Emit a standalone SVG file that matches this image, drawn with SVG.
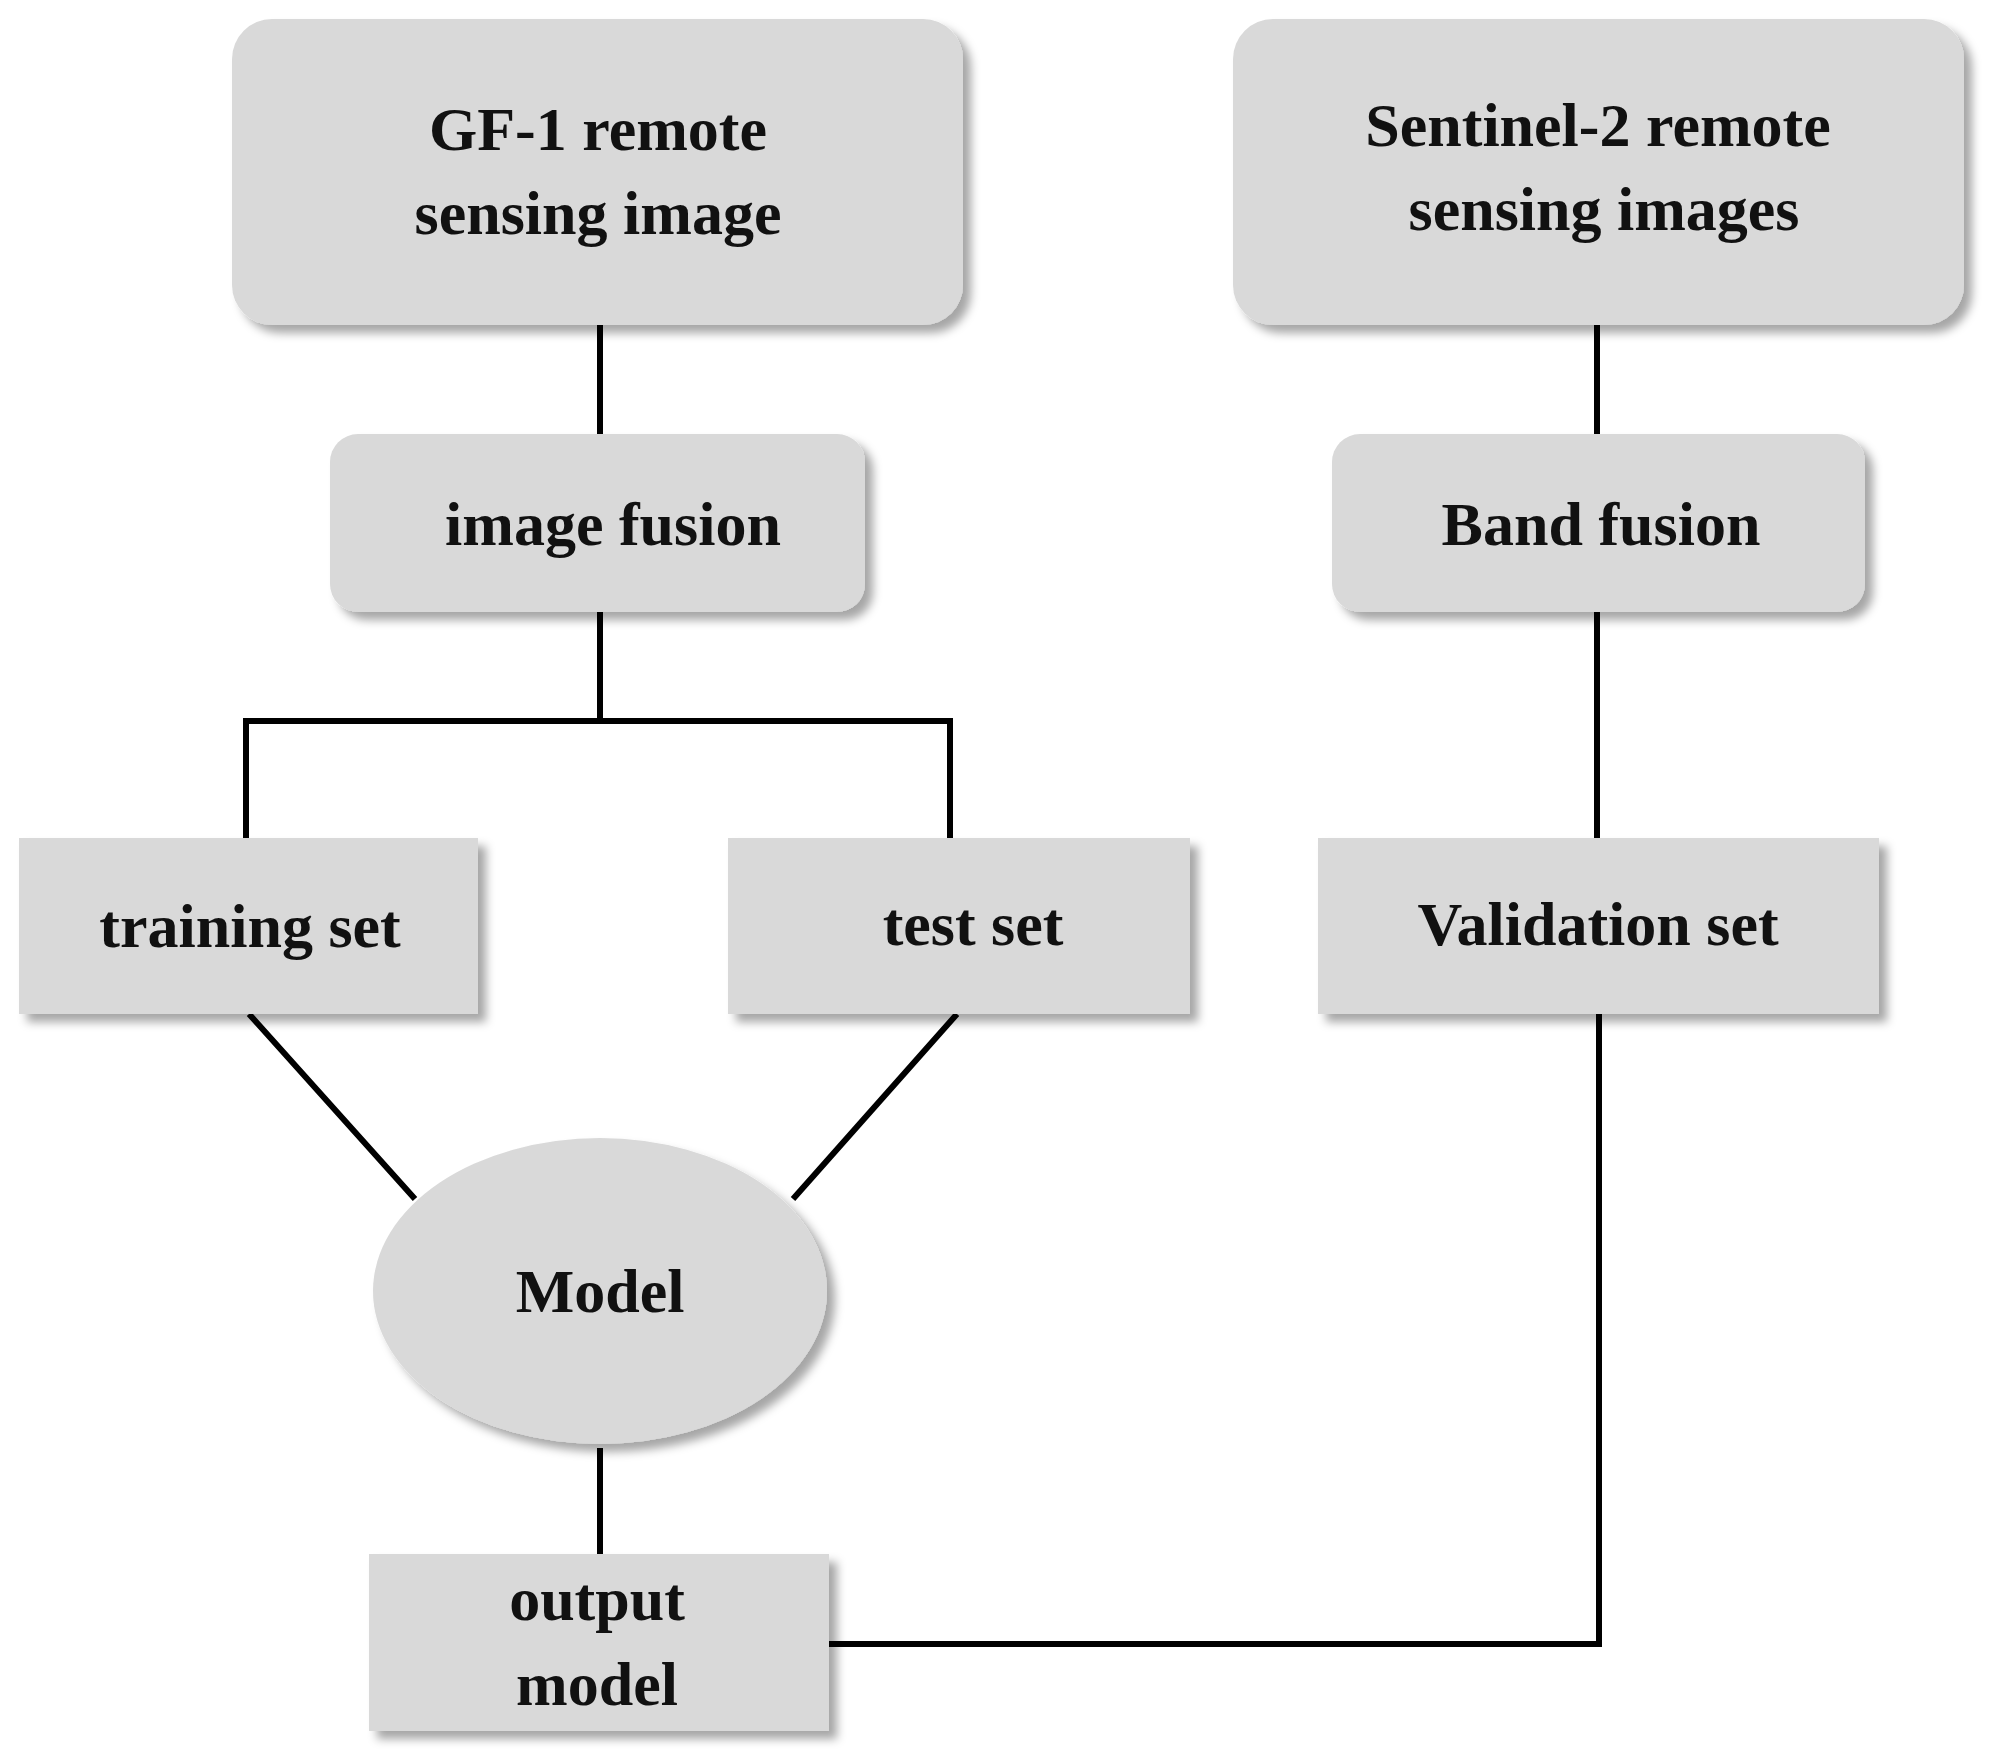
<svg xmlns="http://www.w3.org/2000/svg" width="2000" height="1762" viewBox="0 0 2000 1762">
<defs>
<style>
.n{fill:#d9d9d9;filter:url(#sh)}
.t{font-family:"Liberation Serif","DejaVu Serif",serif;font-weight:bold;font-size:62px;fill:#111;text-anchor:middle}
.c{stroke:#000;stroke-width:6;fill:none}
</style>
<filter id="sh" x="-10%" y="-10%" width="130%" height="130%">
<feDropShadow dx="8" dy="8" stdDeviation="5" flood-color="#000" flood-opacity="0.35"/>
</filter>
</defs>
<rect width="2000" height="1762" fill="#fff"/>
<g id="connectors" class="c">
<path d="M600 325V434M600 612V721M246 838V721H950V838M249 1014L415 1199M957 1014L793 1199M600 1448V1554"/>
<path d="M1597 325V434M1597 612V838M1599 1014V1644H829"/>
</g>
<g id="gf1"><rect class="n" x="232" y="19" width="731" height="306" rx="40"/><text class="t" x="598" y="150">GF-1 remote</text><text class="t" x="598" y="234">sensing image</text></g>
<g id="sentinel"><rect class="n" x="1233" y="19" width="731" height="306" rx="40"/><text class="t" x="1598" y="146">Sentinel-2 remote</text><text class="t" x="1604" y="230">sensing images</text></g>
<g id="imagefusion"><rect class="n" x="330" y="434" width="535" height="178" rx="28"/><text class="t" x="613" y="545">image fusion</text></g>
<g id="bandfusion"><rect class="n" x="1332" y="434" width="533" height="178" rx="28"/><text class="t" x="1601" y="545">Band fusion</text></g>
<g id="training"><rect class="n" x="19" y="838" width="459" height="176"/><text class="t" x="250" y="947">training set</text></g>
<g id="test"><rect class="n" x="728" y="838" width="462" height="176"/><text class="t" x="973" y="945">test set</text></g>
<g id="validation"><rect class="n" x="1318" y="838" width="561" height="176"/><text class="t" x="1598" y="945">Validation set</text></g>
<g id="model"><ellipse class="n" cx="600" cy="1291" rx="227" ry="153"/><text class="t" x="600" y="1312">Model</text></g>
<g id="output"><rect class="n" x="369" y="1554" width="460" height="177"/><text class="t" x="597" y="1620">output</text><text class="t" x="597" y="1705">model</text></g>
</svg>
